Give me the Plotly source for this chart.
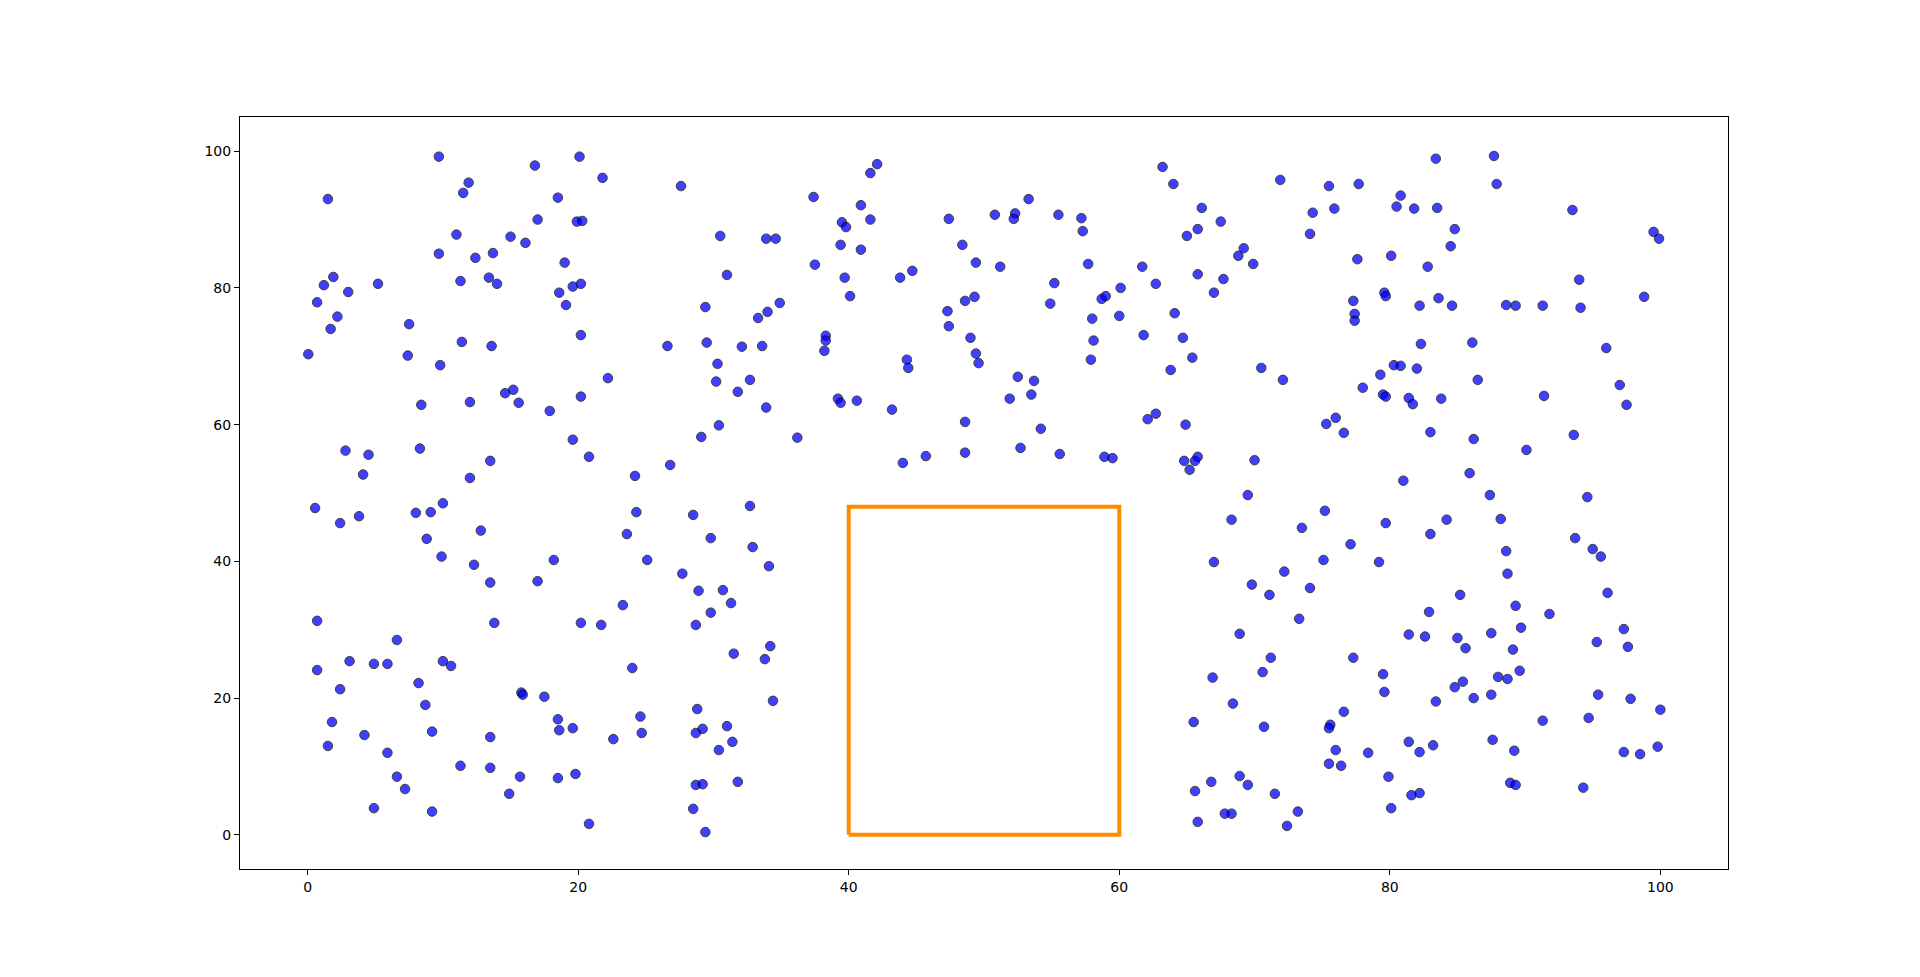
import plotly.graph_objects as go

# scatter points (x, y)
x_vals = [
    9.7, 20.1, 16.8, 21.8, 11.9, 11.5, 1.5, 18.5, 17.0, 19.9, 20.3, 11.0, 15.0, 16.1, 9.7, 12.4, 13.7, 19.0,
    1.9, 1.2, 3.0, 5.2, 0.7, 11.3, 13.4, 14.0, 18.6, 19.6, 20.2, 19.1, 2.2, 1.7, 7.5, 20.2, 0.05, 7.4, 11.4,
    13.6, 9.8,
    27.6, 42.1, 41.6, 37.4, 40.9, 39.5, 39.8, 41.6, 47.4, 30.5, 33.9, 34.6, 39.4, 40.9, 48.4, 37.5, 49.4,
    31.0, 39.7, 43.8, 44.7, 40.1, 29.4, 34.9, 34.0, 33.3, 48.6, 49.3, 47.3, 47.4, 49.0, 38.3, 38.3, 38.2,
    26.6, 29.5, 32.1, 33.6, 30.3, 44.3, 44.4, 49.4, 49.6,
    63.2, 64.0, 71.9, 53.3, 50.8, 52.3, 52.2, 55.5, 57.2, 57.3, 66.1, 67.5, 65.8, 65.0, 74.3, 74.1, 51.2,
    57.7, 61.7, 69.2, 68.8, 69.9, 55.2, 62.7, 65.8, 67.7, 54.9, 58.7, 59.0, 60.1, 67.0, 58.0, 60.0, 64.1,
    58.1, 61.8, 64.7, 57.9, 65.4, 63.8, 70.5,
    83.4, 87.7, 75.5, 77.7, 87.9, 80.8, 75.9, 80.5, 81.8, 83.5, 93.5, 84.8, 84.5, 99.5, 99.9, 77.6, 80.1,
    82.8, 94.0, 79.6, 79.7, 77.3, 77.4, 77.4, 82.2, 83.6, 84.6, 88.6, 89.3, 91.3, 94.1, 98.8, 82.3, 86.1,
    96.0, 80.3, 80.8, 82.0,
    22.2, 8.4, 12.0, 14.6, 15.2, 15.6, 17.9, 20.2, 19.6, 20.8, 24.2, 2.8, 4.5, 8.3, 13.5, 4.1, 12.0, 0.55,
    2.4, 3.8, 8.0, 9.1, 10.0, 24.3, 8.8, 12.8, 23.6, 9.9, 12.3, 18.2, 13.5, 17.0,
    30.2, 32.7, 31.8, 33.9, 39.2, 39.4, 40.6, 43.2, 48.6, 30.4, 29.1, 36.2, 26.8, 44.0, 45.7, 48.6, 28.5,
    32.7, 29.8, 32.9, 25.1, 34.1, 27.7, 28.9, 30.7, 31.3,
    72.1, 52.5, 53.7, 53.5, 51.9, 62.1, 62.7, 64.9, 54.2, 52.7, 55.6, 58.9, 59.5, 64.8, 65.6, 65.8, 65.2,
    70.0, 69.5, 68.3, 73.5, 67.0, 75.1, 72.2, 69.8, 71.1, 74.1,
    79.3, 86.5, 97.0, 78.0, 79.5, 79.7, 81.4, 81.7, 83.8, 91.4, 97.5, 75.3, 76.0, 76.6, 83.0, 86.2, 90.1,
    93.6, 81.0, 85.9, 87.4, 94.6, 75.2, 79.7, 84.2, 88.2, 83.0, 77.1, 93.7, 95.0, 95.6, 79.2, 88.6, 88.7,
    85.2, 96.1,
    23.3, 0.7, 13.8, 20.2, 21.7, 6.6, 0.7, 3.1, 4.9, 5.9, 10.0, 10.6, 24.0, 8.2, 2.4, 8.7, 15.8, 15.9, 17.5,
    1.8, 18.5, 18.6, 19.6, 24.6, 24.7, 4.2, 9.2, 13.5, 22.6, 1.5, 5.9, 11.3, 13.5, 15.7, 18.5, 19.8, 6.6,
    7.2, 14.9, 4.9, 9.2, 20.8,
    29.8, 28.7, 34.2, 31.5, 33.8, 34.4, 28.8, 29.2, 28.7, 31.0, 31.4, 30.4, 31.8, 28.7, 29.2, 28.5, 29.4,
    73.3, 68.9, 71.2, 70.6, 66.9, 68.4, 65.5, 70.7, 68.9, 66.8, 69.5, 65.6, 71.5, 67.8, 68.3, 73.2, 65.8,
    72.4,
    89.3, 82.9, 91.8, 81.4, 82.6, 85.0, 85.6, 87.5, 89.7, 89.1, 95.3, 97.3, 97.6, 77.3, 79.5, 79.6, 83.4,
    84.8, 85.4, 86.2, 87.5, 88.0, 88.7, 89.6, 95.4, 97.8, 100.0, 76.6, 75.6, 75.5, 91.3, 94.7, 76.0, 78.4,
    81.4, 82.2, 83.2, 87.6, 89.2, 97.3, 98.5, 99.8, 75.5, 76.4, 79.9, 88.9, 89.3, 94.3, 81.6, 82.2, 80.1,
]
y_vals = [
    99.2, 99.2, 97.9, 96.1, 95.4, 93.9, 93.0, 93.2, 90.0, 89.7, 89.8, 87.8, 87.5, 86.6, 85.0, 84.4, 85.1, 83.7,
    81.6, 80.4, 79.4, 80.6, 77.9, 81.0, 81.5, 80.6, 79.3, 80.2, 80.6, 77.5, 75.8, 74.0, 74.7, 73.1, 70.3, 70.1, 72.1,
    71.5, 68.7,
    94.9, 98.1, 96.8, 93.3, 92.1, 89.6, 88.9, 90.0, 90.1, 87.6, 87.2, 87.2, 86.3, 85.6, 86.3, 83.4, 83.7,
    81.9, 81.5, 81.5, 82.5, 78.8, 77.2, 77.8, 76.5, 75.6, 78.1, 78.7, 76.6, 74.4, 72.7, 73.0, 72.3, 70.8,
    71.5, 72.0, 71.4, 71.5, 68.9, 69.5, 68.3, 70.4, 69.0,
    97.7, 95.2, 95.8, 93.0, 90.7, 90.9, 90.1, 90.7, 90.2, 88.3, 91.7, 89.7, 88.6, 87.6, 91.0, 87.9, 83.1,
    83.5, 83.1, 85.8, 84.7, 83.5, 80.7, 80.6, 82.0, 81.3, 77.7, 78.4, 78.8, 80.0, 79.3, 75.5, 75.9, 76.3,
    72.3, 73.1, 72.7, 69.5, 69.8, 68.0, 68.3,
    98.9, 99.3, 94.9, 95.2, 95.2, 93.5, 91.6, 91.9, 91.6, 91.7, 91.4, 88.6, 86.1, 88.2, 87.2, 84.2, 84.7,
    83.1, 81.2, 79.3, 78.8, 78.1, 76.2, 75.2, 77.4, 78.5, 77.4, 77.5, 77.4, 77.4, 77.1, 78.7, 71.8, 72.0,
    71.2, 68.7, 68.6, 68.2,
    66.8, 62.9, 63.3, 64.6, 65.1, 63.2, 62.0, 64.1, 57.8, 55.3, 52.5, 56.2, 55.6, 56.5, 54.7, 52.7, 52.2, 47.8,
    45.6, 46.6, 47.1, 47.2, 48.5, 47.2, 43.3, 44.5, 44.0, 40.7, 39.5, 40.2, 36.9, 37.1,
    66.3, 66.55, 64.8, 62.5, 63.8, 63.2, 63.5, 62.2, 60.4, 59.9, 58.2, 58.1, 54.1, 54.4, 55.4, 55.9, 46.8,
    48.1, 43.4, 42.1, 40.2, 39.3, 38.2, 35.7, 35.8, 33.9,
    66.55, 67.0, 66.4, 64.4, 63.8, 60.8, 61.6, 60.0, 59.4, 56.6, 55.7, 55.3, 55.1, 54.7, 54.7, 55.3, 53.4,
    54.8, 49.7, 46.1, 44.9, 39.9, 40.2, 38.5, 36.6, 35.1, 36.1,
    67.3, 66.55, 65.8, 65.4, 64.4, 64.1, 63.9, 63.0, 63.8, 64.2, 62.9, 60.1, 61.0, 58.8, 58.9, 57.9, 56.3,
    58.5, 51.8, 52.9, 49.7, 49.4, 47.4, 45.6, 46.1, 46.2, 44.0, 42.5, 43.4, 41.8, 40.7, 39.9, 41.5, 38.2,
    35.1, 35.4,
    33.6, 31.3, 31.0, 31.0, 30.7, 28.5, 24.1, 25.4, 25.0, 25.0, 25.4, 24.7, 24.4, 22.2, 21.3, 19.0, 20.8, 20.5, 20.2,
    16.5, 16.9, 15.3, 15.6, 17.3, 14.9, 14.6, 15.1, 14.3, 14.0, 13.0, 12.0, 10.1, 9.8, 8.5, 8.3, 8.9, 8.5,
    6.7, 6.0, 3.9, 3.4, 1.6,
    32.5, 30.7, 27.6, 26.5, 25.7, 19.6, 18.4, 15.5, 14.9, 15.9, 13.6, 12.4, 7.75, 7.3, 7.4, 3.8, 0.4,
    31.6, 29.4, 25.9, 23.8, 23.0, 19.2, 16.5, 15.8, 8.6, 7.75, 7.3, 6.4, 6.0, 3.1, 3.1, 3.4, 1.9,
    1.3,
    33.5, 32.6, 32.3, 29.3, 29.0, 28.8, 27.3, 29.5, 30.3, 27.1, 28.2, 30.1, 27.5, 25.9, 23.5, 20.9, 19.5,
    21.6, 22.4, 20.0, 20.5, 23.1, 22.8, 24.0, 20.5, 19.9, 18.3, 18.0, 16.1, 15.6, 16.7, 17.1, 12.4, 12.0,
    13.6, 12.1, 13.1, 13.9, 12.3, 12.1, 11.8, 12.9, 10.4, 10.1, 8.5, 7.6, 7.3, 6.9, 5.8, 6.1, 3.9,
]

# empty region outline (corners of the box)
rect_x = [40, 60, 60, 40, 40]
rect_y = [0, 0, 48, 48, 0]

tick_vals = [0, 20, 40, 60, 80, 100]
axis_range = [-5, 105]

fig = go.Figure()
fig.add_trace(go.Scatter(
    x=x_vals, y=y_vals, mode="markers",
    marker=dict(size=9.5, color="#0000ff", opacity=0.75,
                line=dict(color="black", width=1)),
    hoverinfo="x+y", showlegend=False,
))
fig.add_trace(go.Scatter(
    x=rect_x, y=rect_y, mode="lines",
    line=dict(color="#ff8c00", width=4),
    showlegend=False, hoverinfo="skip",
))

axis_common = dict(
    range=axis_range, tickvals=tick_vals, showgrid=False, zeroline=False,
    showline=True, linecolor="black", linewidth=1, mirror=True,
    ticks="outside", ticklen=5, tickwidth=1, tickcolor="black",
    tickfont=dict(family="DejaVu Sans", size=14, color="black"),
)
fig.update_xaxes(**axis_common)
fig.update_yaxes(**axis_common)
fig.update_layout(
    width=1920, height=977,
    margin=dict(l=232, r=200, t=109, b=116),
    paper_bgcolor="white", plot_bgcolor="white",
    font=dict(family="DejaVu Sans"),
)
fig.write_html("out.html")
